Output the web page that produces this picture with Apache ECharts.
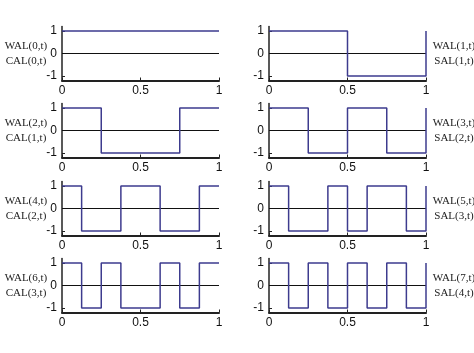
<!DOCTYPE html>
<html><head><meta charset="utf-8">
<script src="https://cdn.jsdelivr.net/npm/echarts@6/dist/echarts.min.js"></script>
<style>html,body{margin:0;padding:0;background:#fff}#c{width:474px;height:353px}</style>
</head><body><div id="c"></div>
<script>
// Walsh function values on 8 equal segments of [0,1] (sequency order)
const wal0 = [1, 1, 1, 1, 1, 1, 1, 1];
const wal1 = [1, 1, 1, 1, -1, -1, -1, -1];
const wal2 = [1, 1, -1, -1, -1, -1, 1, 1];
const wal3 = [1, 1, -1, -1, 1, 1, -1, -1];
const wal4 = [1, -1, -1, 1, 1, -1, -1, 1];
const wal5 = [1, -1, -1, 1, -1, 1, 1, -1];
const wal6 = [1, -1, 1, -1, -1, 1, -1, 1];
const wal7 = [1, -1, 1, -1, 1, -1, 1, -1];
const endValue = 1; // value at t = 1 (periodic wrap)
const labelsTop = ['WAL(0,t)', 'WAL(1,t)', 'WAL(2,t)', 'WAL(3,t)', 'WAL(4,t)', 'WAL(5,t)', 'WAL(6,t)', 'WAL(7,t)'];
const labelsBot = ['CAL(0,t)', 'SAL(1,t)', 'CAL(1,t)', 'SAL(2,t)', 'CAL(2,t)', 'SAL(3,t)', 'CAL(3,t)', 'SAL(4,t)'];
const xTicks = [0, 0.5, 1];
const yTicks = [-1, 0, 1];

const signals = [wal0, wal1, wal2, wal3, wal4, wal5, wal6, wal7];
const colLeft = [62, 269];
const plotW = 157;
const rowTop = [26.5, 103.5, 181.5, 258.5];
const plotH = 54;
const blue = '#3d3b8e';

const grids = [], xAxes = [], yAxes = [], series = [], graphics = [];
signals.forEach((sig, i) => {
  const col = i % 2, row = Math.floor(i / 2);
  grids.push({left: colLeft[col], top: rowTop[row], width: plotW, height: plotH, containLabel: false});
  xAxes.push({
    type: 'value', gridIndex: i, min: 0, max: 1, interval: 0.5,
    axisLine: {onZero: false, lineStyle: {color: '#222', width: 2}},
    axisTick: {inside: true, length: 3, lineStyle: {color: '#222'}},
    axisLabel: {color: '#111', fontSize: 12, fontFamily: 'Liberation Sans, Arial, sans-serif', margin: 4,
      formatter: v => String(v), showMinLabel: true, showMaxLabel: true},
    splitLine: {show: false}
  });
  yAxes.push({
    type: 'value', gridIndex: i, min: -1.2, max: 1.2,
    axisLine: {show: true, onZero: false, lineStyle: {color: '#222', width: 1.5}},
    axisTick: {show: true, inside: true, length: 3, customValues: yTicks, lineStyle: {color: '#222'}},
    axisLabel: {color: '#111', fontSize: 12, fontFamily: 'Liberation Sans, Arial, sans-serif', margin: 5,
      customValues: yTicks, formatter: v => String(v)},
    splitLine: {show: false}
  });
  series.push({
    type: 'line', xAxisIndex: i, yAxisIndex: i, symbol: 'none', silent: true,
    data: [[xTicks[0], 0], [xTicks[xTicks.length - 1], 0]],
    lineStyle: {color: '#111', width: 1.2}, z: 2
  });
  const pts = sig.map((v, k) => [k / sig.length, v]);
  pts.push([1, endValue]);
  series.push({
    type: 'line', xAxisIndex: i, yAxisIndex: i, symbol: 'none', silent: true,
    step: 'end', data: pts, lineStyle: {color: blue, width: 1.5}, z: 3
  });
  const cx = col === 0 ? 26 : 454;
  const y0 = rowTop[row] + plotH / 2;
  graphics.push({type: 'text', x: cx, y: y0 - 7.5,
    style: {text: labelsTop[i], fill: '#222', font: '11px "Liberation Serif", "Times New Roman", serif',
      textAlign: 'center', textVerticalAlign: 'middle'}});
  graphics.push({type: 'text', x: cx, y: y0 + 7.5,
    style: {text: labelsBot[i], fill: '#222', font: '11px "Liberation Serif", "Times New Roman", serif',
      textAlign: 'center', textVerticalAlign: 'middle'}});
});

const chart = echarts.init(document.getElementById('c'), null, {renderer: 'canvas'});
chart.setOption({
  animation: false,
  backgroundColor: '#fff',
  grid: grids, xAxis: xAxes, yAxis: yAxes, series: series,
  graphic: graphics
});
</script></body></html>
